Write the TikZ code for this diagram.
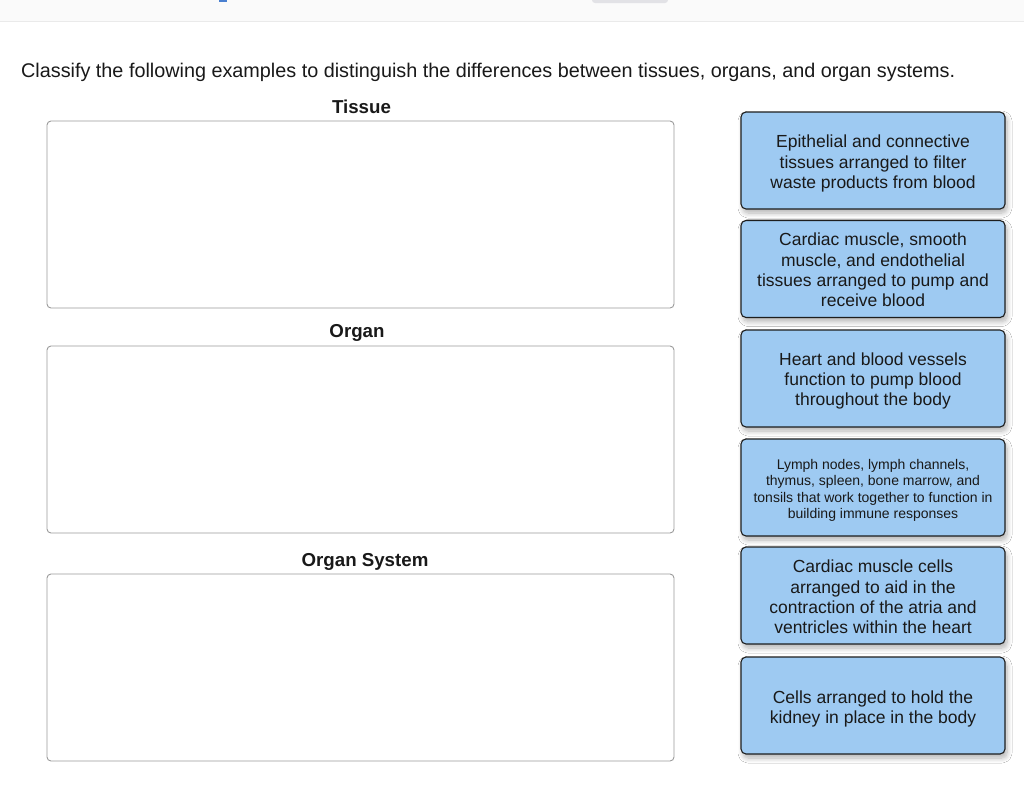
\documentclass[tikz,border=0pt]{standalone}
\usepackage{fontspec}
\setmainfont{Liberation Sans}
\usetikzlibrary{shadows.blur}
\definecolor{cardblue}{RGB}{158,202,242}
\definecolor{cardline}{RGB}{30,30,30}
\definecolor{zoneline}{RGB}{155,155,155}
\definecolor{inktext}{RGB}{25,25,25}
\definecolor{bandfill}{RGB}{250,250,250}
\definecolor{bandline}{RGB}{234,234,234}
\definecolor{tabblue}{RGB}{74,128,208}
\definecolor{pillgray}{RGB}{226,226,230}
\tikzset{
  zone/.style={draw=zoneline, line width=0.9pt, rounded corners=4pt, fill=white,
    minimum width=627pt, minimum height=187pt, inner sep=0pt},
  zonelabel/.style={font=\bfseries\fontsize{18.7}{20}\selectfont, text=inktext, anchor=base, inner sep=0pt},
  card/.style={draw=cardline, line width=1.1pt, rounded corners=5pt, fill=cardblue,
    minimum width=264pt, minimum height=97pt, inner sep=0pt,
    blur shadow={shadow xshift=2pt, shadow yshift=-4pt, shadow blur steps=8, shadow blur radius=5pt, shadow opacity=30}},
  cardtext/.style={inner sep=0pt, align=center, text=inktext, font=\fontsize{17.5}{20.2}\selectfont},
  smallcardtext/.style={cardtext, font=\fontsize{14}{16.4}\selectfont}
}
\begin{document}
\begin{tikzpicture}[x=1pt,y=-1pt]
\useasboundingbox (0,0) rectangle (1024,790);
\fill[white] (0,0) rectangle (1024,790);
% top band
\fill[bandfill] (0,0) rectangle (1024,21);
\draw[bandline, line width=1pt] (0,21) -- (1024,21);
\fill[tabblue] (219,0) rectangle (227,1.6);
\fill[pillgray, rounded corners=3pt] (592,-5) rectangle (668,3);
% title
\node[anchor=base west, inner sep=0pt, text=inktext, font=\fontsize{19.8}{22}\selectfont] (title) at (21,77)
  {Classify the following examples to distinguish the differences between tissues, organs, and organ systems.};
% zones
\node[zonelabel] (ltissue) at (361.5,113) {Tissue};
\node[zone] (ztissue) at (360.5,214.5) {};
\node[zonelabel] (lorgan) at (357,337) {Organ};
\node[zone] (zorgan) at (360.5,439.5) {};
\node[zonelabel] (lsystem) at (365,566) {Organ System};
\node[zone] (zsystem) at (360.5,667.5) {};
% cards
\node[card] (c1) at (873,160.5) {};
\node[cardtext] (t1) at ([yshift=-3pt]c1.center) {Epithelial and connective\\tissues arranged to filter\\waste products from blood};
\node[card] (c2) at (873,269) {};
\node[cardtext] (t2) at ([yshift=-1pt]c2.center) {Cardiac muscle, smooth\\muscle, and endothelial\\tissues arranged to pump and\\receive blood};
\node[card] (c3) at (873,378.5) {};
\node[cardtext] (t3) at ([yshift=-2.5pt]c3.center) {Heart and blood vessels\\function to pump blood\\throughout the body};
\node[card] (c4) at (873,487.5) {};
\node[smallcardtext] (t4) at ([yshift=-3pt]c4.center) {Lymph nodes, lymph channels,\\thymus, spleen, bone marrow, and\\tonsils that work together to function in\\building immune responses};
\node[card] (c5) at (873,595.5) {};
\node[cardtext] (t5) at ([yshift=-1.5pt]c5.center) {Cardiac muscle cells\\arranged to aid in the\\contraction of the atria and\\ventricles within the heart};
\node[card] (c6) at (873,705.5) {};
\node[cardtext] (t6) at ([yshift=-3.5pt]c6.center) {Cells arranged to hold the\\kidney in place in the body};
\end{tikzpicture}
\end{document}
